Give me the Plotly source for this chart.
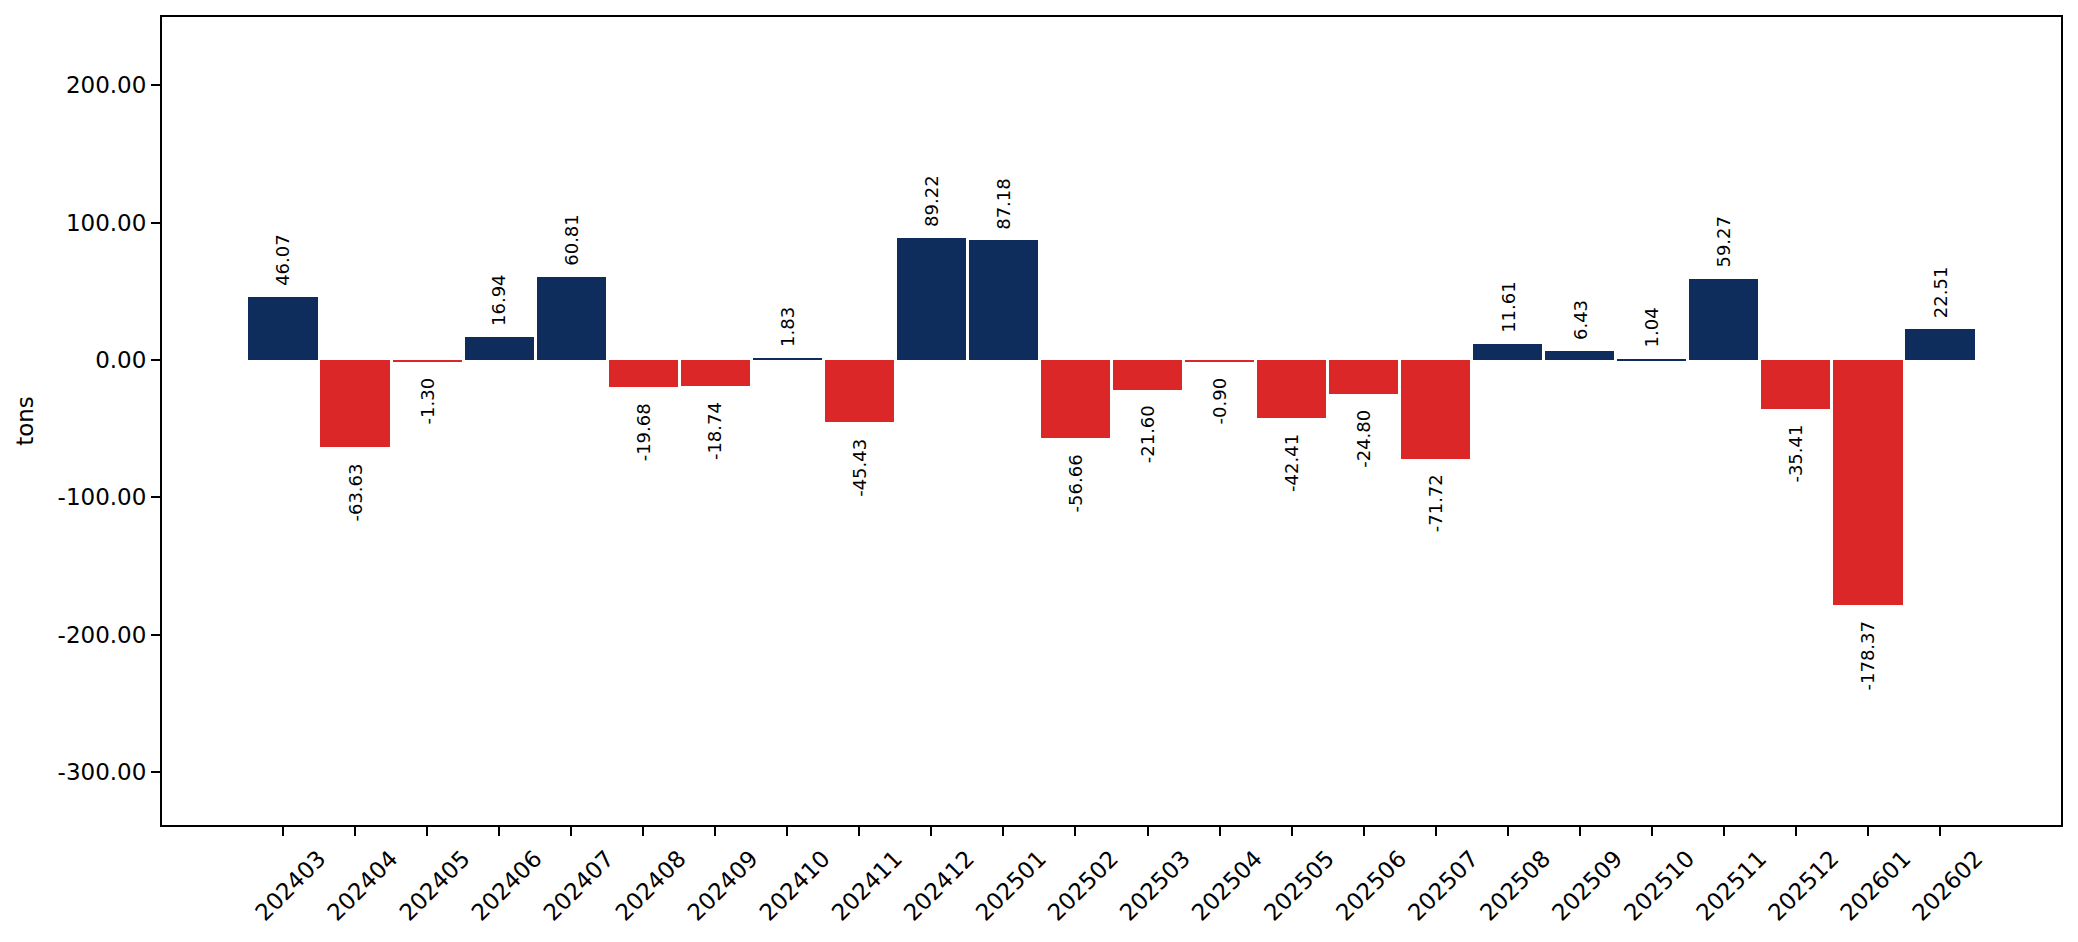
import plotly.graph_objects as go

months = ["202403", "202404", "202405", "202406", "202407", "202408", "202409", "202410",
          "202411", "202412", "202501", "202502", "202503", "202504", "202505", "202506",
          "202507", "202508", "202509", "202510", "202511", "202512", "202601", "202602"]
values = [46.07, -63.63, -1.30, 16.94, 60.81, -19.68, -18.74, 1.83,
          -45.43, 89.22, 87.18, -56.66, -21.60, -0.90, -42.41, -24.80,
          -71.72, 11.61, 6.43, 1.04, 59.27, -35.41, -178.37, 22.51]
y_ticks = [-300, -200, -100, 0, 100, 200]

POS = "#0e2d5c"
NEG = "#db2727"
FONT = "DejaVu Sans"

xs = list(range(len(months)))
colors = [POS if v >= 0 else NEG for v in values]

fig = go.Figure()
fig.add_trace(go.Bar(
    x=xs, y=values, width=0.96, marker=dict(color=colors, line=dict(width=0)),
    showlegend=False, hoverinfo="x+y",
))

for x, v in zip(xs, values):
    fig.add_annotation(
        x=x, y=v, xref="x", yref="y", text=f"{v:.2f}", showarrow=False,
        textangle=-90, font=dict(family=FONT, size=18, color="black"),
        xanchor="center", yanchor="bottom" if v >= 0 else "top",
        yshift=9 if v >= 0 else -14,
    )

fig.update_layout(
    width=2078, height=942,
    margin=dict(l=162, r=17, t=17, b=117),
    paper_bgcolor="white", plot_bgcolor="white",
    font=dict(family=FONT, size=23, color="black"),
    bargap=0,
)
fig.update_xaxes(
    range=[-1.68, len(months) - 1 + 1.68],
    tickmode="array", tickvals=xs, ticktext=months,
    tickangle=-45, ticklabelshift=36,
    ticks="outside", ticklen=9, tickwidth=2, tickcolor="black",
    showline=True, linewidth=2, linecolor="black", mirror=True,
    showgrid=False, zeroline=False,
    tickfont=dict(family=FONT, size=23, color="black"),
)
fig.update_yaxes(
    range=[-338.5, 249.8],
    tickmode="array", tickvals=y_ticks, ticktext=[f"{t:.2f}" for t in y_ticks],
    ticks="outside", ticklen=9, tickwidth=2, tickcolor="black",
    showline=True, linewidth=2, linecolor="black", mirror=True,
    showgrid=False, zeroline=False,
    title=dict(text="tons", font=dict(family=FONT, size=23, color="black"), standoff=18),
    tickfont=dict(family=FONT, size=23, color="black"),
)

fig.write_html("out.html")
